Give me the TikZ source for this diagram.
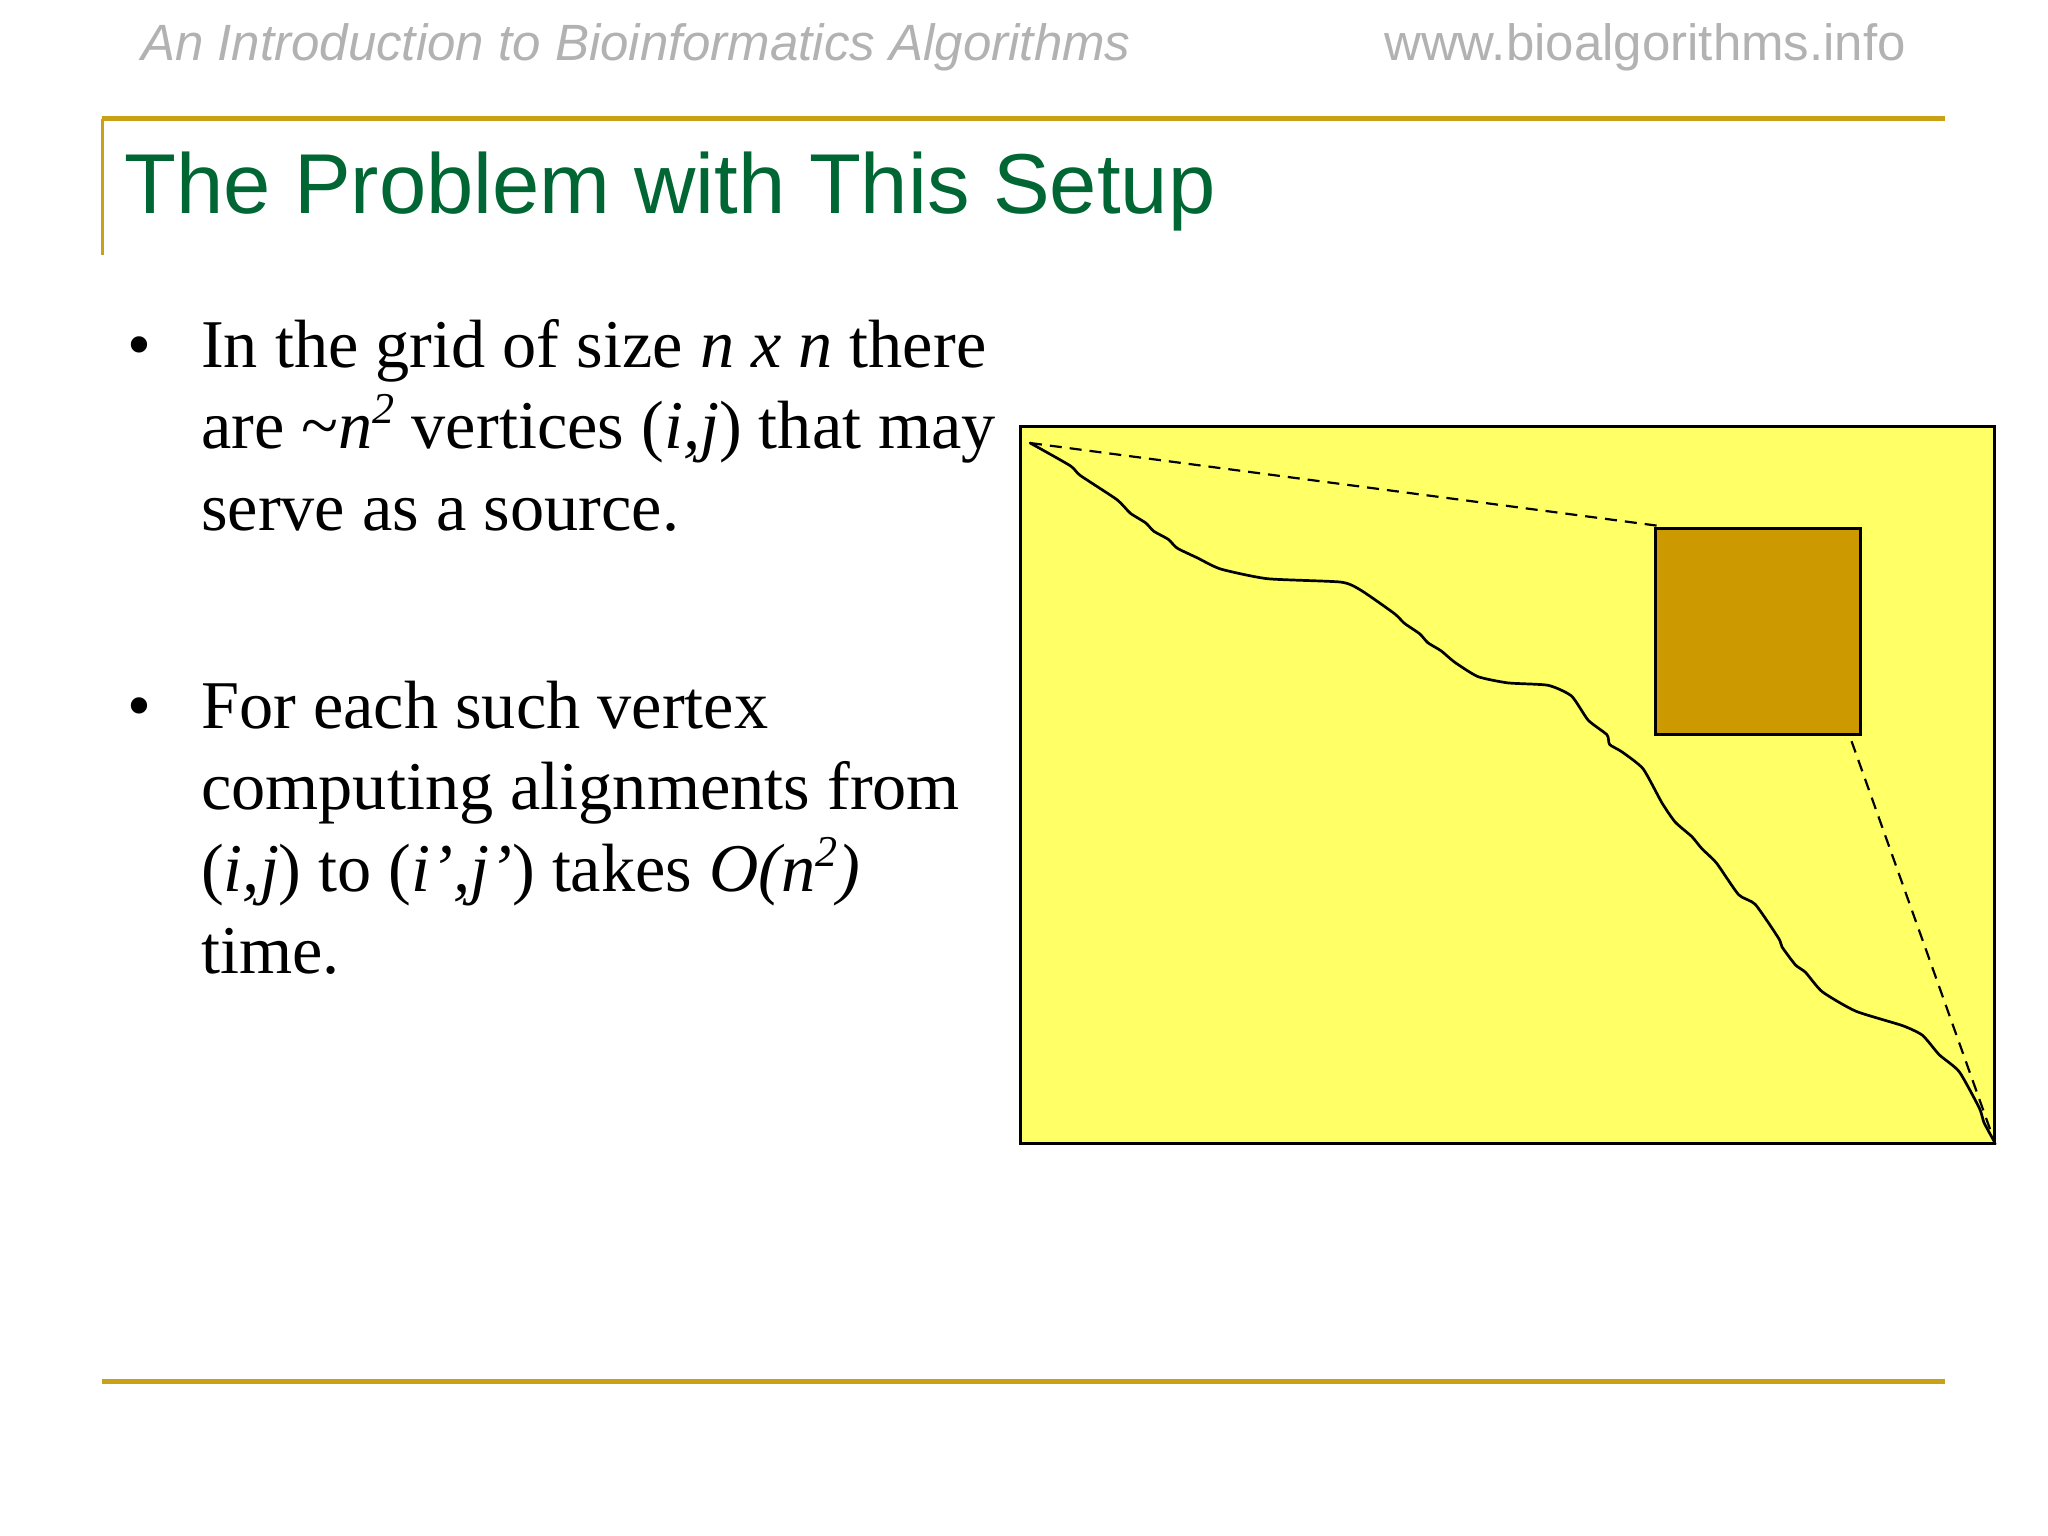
\documentclass[tikz,border=0pt]{standalone}
\usepackage{fontspec}
\setmainfont{Liberation Serif}
\newfontfamily\arialf{Liberation Sans}
\usetikzlibrary{calc}
\definecolor{gold}{RGB}{201,160,22}
\definecolor{titlegreen}{RGB}{0,102,51}
\definecolor{hdrgray}{RGB}{178,178,178}
\definecolor{gridyellow}{RGB}{255,255,102}
\definecolor{boxbrown}{RGB}{204,153,0}
\newcommand{\supr}[1]{\raisebox{0.36em}{\fontsize{44}{44}\selectfont #1}}
\tikzset{
  hdr/.style={inner sep=0pt, text=hdrgray, font=\arialf\fontsize{51}{60}\selectfont},
  titletext/.style={inner sep=0pt, text=titlegreen, font=\arialf\fontsize{85}{100}\selectfont},
  bodyline/.style={inner sep=0pt, anchor=base west, font=\fontsize{68.3}{81}\selectfont},
  rule/.style={gold, line width=5pt},
  gridbox/.style={draw=black, fill=gridyellow, line width=3pt, inner sep=0pt, minimum width=974pt, minimum height=717pt},
  subbox/.style={draw=black, fill=boxbrown, line width=3pt, inner sep=0pt, minimum width=205pt, minimum height=206pt},
  dashline/.style={black, line width=2.2pt, dash pattern=on 12pt off 8pt},
  pathline/.style={black, line width=2.7pt, line join=round, line cap=round}
}
\begin{document}
\begin{tikzpicture}[x=1pt,y=-1pt]
\useasboundingbox (0,0) rectangle (2048,1536);
\fill[white] (0,0) rectangle (2048,1536);
% header
\node[hdr, anchor=base west] (hdrL) at (141,61) {\itshape An Introduction to Bioinformatics Algorithms};
\node[hdr, anchor=base east] (hdrR) at (1906,61) {www.bioalgorithms.info};
% rules
\draw[rule] (102,119) -- (1945,119);
\draw[gold, line width=3pt] (102,119) -- (102,255);
\draw[rule] (102,1381) -- (1945,1381);
% title
\node[titletext, anchor=base west] (title) at (124,213) {The Problem with This Setup};
% bullets
\node[bodyline] (b1) at (127,367) {•};
\node[bodyline] (l1) at (201,367) {In the grid of size \textit{n x n} there};
\node[bodyline] (l2) at (201,448) {are \textasciitilde\textit{n}\supr{\textit{2}} vertices (\textit{i,j}) that may};
\node[bodyline] (l3) at (201,530) {serve as a source.};
\node[bodyline] (b2) at (127,728) {•};
\node[bodyline] (l4) at (201,728) {For each such vertex};
\node[bodyline] (l5) at (201,809) {computing alignments from};
\node[bodyline] (l6) at (201,891) {(\textit{i,j}) to (\textit{i’,j’}) takes \textit{O(n\supr{2})}};
\node[bodyline] (l7) at (201,973) {time.};
% grid
\node[gridbox] (grid) at (1507,784.5) {};
\node[subbox] (sub) at (1757.5,631) {};
\coordinate (src) at (1030,443);
\coordinate (snk) at (grid.south east);
\draw[pathline] plot[smooth, tension=0.35] coordinates {
(1030.1,443.0) (1070.2,465.7) (1080.2,475.4) (1117.0,499.7) (1130.3,513.2)
(1145.7,522.9) (1153.7,531.2) (1168.4,539.4) (1177.1,548.1) (1197.2,557.8)
(1220.6,569.0) (1267.4,578.7) (1340.9,582.1) (1361.0,590.3) (1394.4,613.6)
(1404.4,623.3) (1419.8,633.9) (1427.8,642.7) (1441.2,650.9) (1454.5,662.1)
(1477.9,676.6) (1508.0,682.9) (1548.1,685.3) (1571.5,696.0) (1588.2,720.2)
(1607.0,734.8) (1609.6,744.5) (1621.7,751.7) (1643.0,768.7) (1661.8,802.6)
(1675.1,822.0) (1691.8,836.6) (1701.9,848.7) (1716.6,863.2) (1738.6,894.7)
(1755.3,904.4) (1778.7,938.4) (1782.1,947.1) (1795.5,965.0) (1805.5,972.3)
(1822.2,991.7) (1855.6,1011.1) (1902.4,1025.6) (1922.5,1035.3) (1939.2,1054.7)
(1959.2,1071.7) (1979.3,1108.0) (1984.0,1122.6) (1994,1141)};
\draw[dashline] (src) -- ($(sub.north west)+(10,0)$);
\draw[dashline, shorten <=6pt] ($(sub.south east)+(-12,0)$) -- (snk);
\end{tikzpicture}
\end{document}
